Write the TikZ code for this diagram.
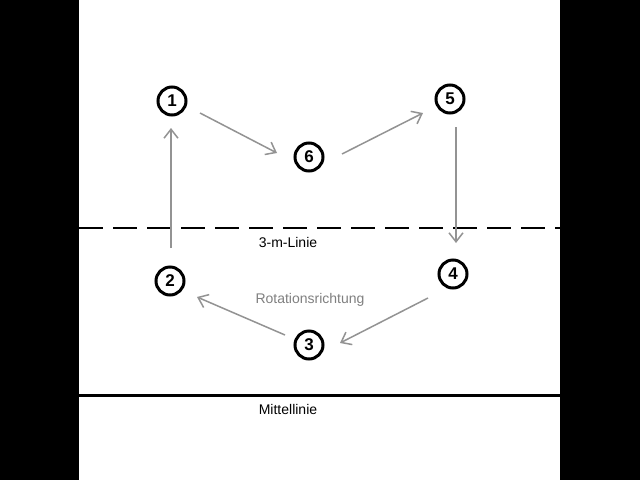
\documentclass[tikz,border=0pt]{standalone}
\usepackage{fontspec}
\setmainfont{Liberation Sans}
\usetikzlibrary{arrows.meta}
\begin{document}
\begin{tikzpicture}[x=1pt,y=-1pt,
  posnode/.style={circle,draw=black,line width=3pt,fill=white,minimum size=28pt,inner sep=0pt,font=\bfseries\fontsize{17}{17}\selectfont},
  rot/.style={draw=gray!85,line width=1.5pt,-{Straight Barb[length=9pt,width=14pt,line width=1.5pt]}},
  lbl/.style={font=\fontsize{14}{14}\selectfont}]
\fill[black] (0,0) rectangle (640,480);
\fill[white] (79,0) rectangle (560,480);
\useasboundingbox (0,0) rectangle (640,480);
\draw[line width=2pt,dash pattern=on 24pt off 10pt] (79,228) -- (560,228);
\draw[line width=3pt] (79,395) -- (560,395);
\node[posnode] (p1) at (172,101) {1};
\node[posnode] (p6) at (309,157) {6};
\node[posnode] (p5) at (450,99) {5};
\node[posnode] (p2) at (170,281) {2};
\node[posnode] (p4) at (453,274) {4};
\node[posnode] (p3) at (309,345) {3};
\coordinate (a21s) at (171,248); \coordinate (a21e) at (171,128);
\coordinate (a16s) at (200,113); \coordinate (a16e) at (277,153);
\coordinate (a65s) at (342,154); \coordinate (a65e) at (423,113);
\coordinate (a54s) at (456,127); \coordinate (a54e) at (456,243);
\coordinate (a43s) at (428,298); \coordinate (a43e) at (340,343);
\coordinate (a32s) at (285,335); \coordinate (a32e) at (197,297);
\draw[rot] (a21s) -- (a21e);
\draw[rot] (a16s) -- (a16e);
\draw[rot] (a65s) -- (a65e);
\draw[rot] (a54s) -- (a54e);
\draw[rot] (a43s) -- (a43e);
\draw[rot] (a32s) -- (a32e);
\node[lbl] (l1) at (288,242) {3-m-Linie};
\node[lbl,text=gray] (l2) at (310,300) {Rotationsrichtung};
\node[lbl] (l3) at (288,409) {Mittellinie};
\end{tikzpicture}
\end{document}
